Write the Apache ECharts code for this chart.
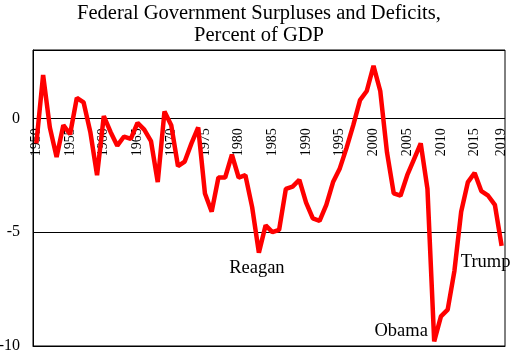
<!DOCTYPE html>
<html>
<head>
<meta charset="utf-8">
<script src="https://cdn.jsdelivr.net/npm/echarts@6/dist/echarts.min.js"></script>
<style>
html,body{margin:0;padding:0;background:#fff;}
#chart{width:518px;height:356px;}
</style>
</head>
<body>
<div id="chart"></div>
<script>
const years = ['1950','1951','1952','1953','1954','1955','1956','1957','1958','1959',
  '1960','1961','1962','1963','1964','1965','1966','1967','1968','1969',
  '1970','1971','1972','1973','1974','1975','1976','1977','1978','1979',
  '1980','1981','1982','1983','1984','1985','1986','1987','1988','1989',
  '1990','1991','1992','1993','1994','1995','1996','1997','1998','1999',
  '2000','2001','2002','2003','2004','2005','2006','2007','2008','2009',
  '2010','2011','2012','2013','2014','2015','2016','2017','2018','2019'];
const surplusPct = [-1.1, 1.9, -0.4, -1.7, -0.3, -0.7, 0.9, 0.7, -0.6, -2.5,
  0.1, -0.6, -1.2, -0.8, -0.9, -0.2, -0.5, -1.0, -2.8, 0.3,
  -0.3, -2.1, -1.9, -1.1, -0.4, -3.3, -4.1, -2.6, -2.6, -1.6,
  -2.6, -2.5, -3.9, -5.9, -4.7, -5.0, -4.9, -3.1, -3.0, -2.7,
  -3.7, -4.4, -4.5, -3.8, -2.8, -2.2, -1.3, -0.3, 0.8, 1.2,
  2.3, 1.2, -1.5, -3.3, -3.4, -2.5, -1.8, -1.1, -3.1, -9.8,
  -8.7, -8.4, -6.7, -4.1, -2.8, -2.4, -3.2, -3.4, -3.8, -5.6];
const labeledYears = ['1950','1955','1960','1965','1970','1975','1980','1985','1990','1995','2000','2005','2010','2015','2019'];
const yMin = -10, yMax = 3, yStep = 5;
const annotNames = ['Reagan', 'Obama', 'Trump'];
const annotYears = ['1983', '2009', '2019'];
const annotValues = [-6.6, -9.35, -6.3];
const annotOffsets = [[-2, 0], [-33, 0], [-16, 0]];

const serif = "'Liberation Serif', 'Times New Roman', serif";
const chart = echarts.init(document.getElementById('chart'), null, {renderer: 'canvas'});
const labelGap = 10;
chart.setOption({
  animation: false,
  backgroundColor: '#ffffff',
  title: {
    text: 'Federal Government Surpluses and Deficits,\nPercent of GDP',
    left: 'center',
    top: 3,
    padding: 0,
    textStyle: {fontFamily: serif, fontSize: 20.5, fontWeight: 'normal', color: '#000', lineHeight: 22}
  },
  grid: {left: 33, right: 13, top: 50, bottom: 10, containLabel: false, outerBoundsMode: 'none',
    show: true, borderColor: '#000', borderWidth: 1},
  xAxis: {
    type: 'category',
    data: years,
    boundaryGap: true,
    position: 'bottom',
    axisLine: {onZero: false, lineStyle: {color: '#000', width: 1}},
    axisTick: {show: false},
    splitLine: {show: false},
    axisLabel: {
      rotate: 90,
      margin: labelGap,
      color: '#000',
      fontFamily: serif,
      fontSize: 14,
      hideOverlap: false,
      interval: function (idx, val) { return labeledYears.indexOf(val) >= 0; }
    }
  },
  yAxis: {
    type: 'value',
    min: yMin,
    max: yMax,
    interval: yStep,
    axisLine: {show: true, lineStyle: {color: '#000', width: 1}},
    axisTick: {show: false},
    splitLine: {show: true, lineStyle: {color: '#000', width: 1}},
    axisLabel: {color: '#000', fontFamily: serif, fontSize: 16, margin: 13, showMaxLabel: false}
  },
  series: [
    {
      type: 'line',
      data: surplusPct,
      symbol: 'none',
      lineStyle: {color: '#ff0000', width: 4.5},
      zlevel: 1,
      z: 3
    },
    {
      type: 'scatter',
      symbolSize: 0,
      silent: true,
      zlevel: 1,
      z: 4,
      itemStyle: {opacity: 1},
      data: annotNames.map((n, i) => ({
        name: n,
        value: [annotYears[i], annotValues[i]],
        label: {offset: annotOffsets[i]}
      })),
      label: {
        show: true,
        position: 'inside',
        formatter: p => p.name,
        color: '#000',
        fontFamily: serif,
        fontSize: 18.5
      }
    }
  ]
});
// place the year labels just under the zero line (as in the reference)
const zeroPx = chart.convertToPixel({yAxisIndex: 0}, 0);
const bottomPx = chart.convertToPixel({yAxisIndex: 0}, yMin);
chart.setOption({xAxis: {axisLabel: {margin: labelGap - (bottomPx - zeroPx)}}});
</script>
</body>
</html>
